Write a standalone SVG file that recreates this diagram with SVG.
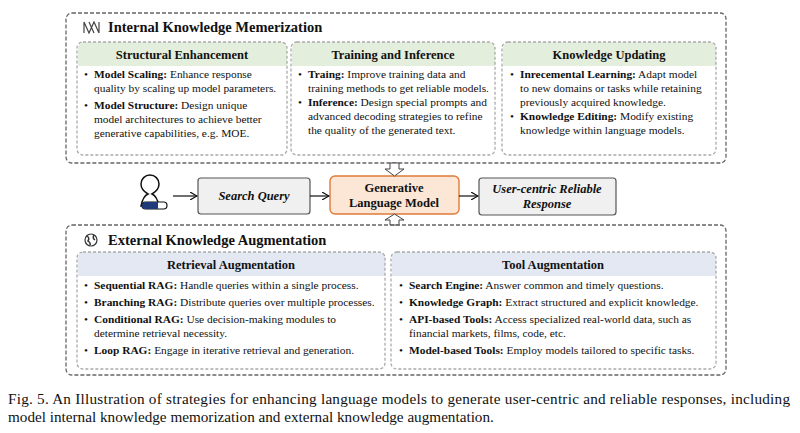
<svg xmlns="http://www.w3.org/2000/svg" width="800" height="433" viewBox="0 0 800 433">
<style>
text{font-family:"Liberation Serif",serif;fill:#111}
.t{font-size:11.4px}
.b{font-weight:bold}
.h{font-size:12.5px;font-weight:bold;text-anchor:middle}
.big{font-size:14.5px;font-weight:bold}
.outer{fill:none;stroke:#666;stroke-width:1.3;stroke-dasharray:4 2}
.card{fill:none;stroke:#aaa;stroke-width:1.3;stroke-dasharray:3 2}
.gh{fill:#e4eedc}
.bh{fill:#e3e8f3}
.box{fill:#f0f0f0;stroke:#555;stroke-width:1.2}
.it{font-size:12.5px;font-weight:bold;font-style:italic;text-anchor:middle}
.cap{font-size:15.2px}
</style>
<defs>
<marker id="ar" markerWidth="8" markerHeight="8" refX="7" refY="4" orient="auto" markerUnits="userSpaceOnUse"><path d="M0,0 L7,4 L0,8" fill="none" stroke="#111" stroke-width="1.2"/></marker>
</defs>
<g id="internal">
<rect class="outer" x="66" y="13" width="660" height="150" rx="6"/>
<g stroke="#444" stroke-width="1.2" fill="none"><path d="M84,22 L89,33 L94,22 L99,33 M84,22 L84,33 M99,22 L99,33 M89,22 L94,33"/></g>
<text class="big" x="108" y="32">Internal Knowledge Memerization</text>
</g>
<g id="structural">
<path class="gh" d="M78,66 V48 a6,6 0 0 1 6,-6 H281 a6,6 0 0 1 6,6 V66 Z"/>
<rect class="card" x="77" y="42" width="210" height="113" rx="6"/>
<text class="h" x="182" y="59">Structural Enhancement</text>
<text class="t" x="84" y="78">•</text><text class="t" x="94" y="78"><tspan class="b">Model Scaling:</tspan> Enhance response</text>
<text class="t" x="94" y="92">quality by scaling up model parameters.</text>
<text class="t" x="84" y="109">•</text><text class="t" x="94" y="109"><tspan class="b">Model Structure:</tspan> Design unique</text>
<text class="t" x="94" y="123">model architectures to achieve better</text>
<text class="t" x="94" y="137">generative capabilities, e.g. MOE.</text>
</g>
<g id="training">
<path class="gh" d="M292,66 V48 a6,6 0 0 1 6,-6 H489 a6,6 0 0 1 6,6 V66 Z"/>
<rect class="card" x="291" y="42" width="204" height="113" rx="6"/>
<text class="h" x="393" y="59">Training and Inference</text>
<text class="t" x="298" y="78">•</text><text class="t" x="308" y="78"><tspan class="b">Traing:</tspan> Improve training data and</text>
<text class="t" x="308" y="92">training methods to get reliable models.</text>
<text class="t" x="298" y="106">•</text><text class="t" x="308" y="106"><tspan class="b">Inference:</tspan> Design special prompts and</text>
<text class="t" x="308" y="120">advanced decoding strategies to refine</text>
<text class="t" x="308" y="134">the quality of the generated text.</text>
</g>
<g id="updating">
<path class="gh" d="M503,66 V48 a6,6 0 0 1 6,-6 H710 a6,6 0 0 1 6,6 V66 Z"/>
<rect class="card" x="502" y="42" width="214" height="113" rx="6"/>
<text class="h" x="609" y="59">Knowledge Updating</text>
<text class="t" x="510" y="78">•</text><text class="t" x="520" y="78"><tspan class="b">Inrecemental Learning:</tspan> Adapt model</text>
<text class="t" x="520" y="92">to new domains or tasks while retaining</text>
<text class="t" x="520" y="106">previously acquired knowledge.</text>
<text class="t" x="510" y="120">•</text><text class="t" x="520" y="120"><tspan class="b">Knowledge Editing:</tspan> Modify existing</text>
<text class="t" x="520" y="134">knowledge within language models.</text>
</g>
<g id="user">
<path d="M141,206 Q143,196 148,194 Q141,190 141,184 A9,9 0 0 1 159,184 Q159,190 152,194 Q157,196 159,206 Z" fill="#fff" stroke="#111" stroke-width="1.5"/>
<rect x="142" y="202" width="25" height="7" rx="3.5" fill="#fff" stroke="#111" stroke-width="1.2"/>
<path d="M145.5,202 H158 V209 H145.5 a3.5,3.5 0 0 1 0,-7 Z" fill="#1f3a7a"/>
</g>
<g id="query"><rect class="box" x="198" y="178" width="112" height="36" rx="3"/><text class="it" x="254" y="200">Search Query</text></g>
<g id="glm"><rect x="330" y="176" width="129" height="38" rx="5" fill="#fce6d6" stroke="#e07b39" stroke-width="1.4"/><text class="h" x="394" y="192">Generative</text><text class="h" x="394" y="207">Language Model</text></g>
<g id="response"><rect class="box" x="479" y="178" width="137" height="37" rx="3"/><text class="it" x="547" y="193">User-centric Reliable</text><text class="it" x="547" y="208">Response</text></g>
<g id="connectors">
<line x1="173" y1="196" x2="197" y2="196" stroke="#111" stroke-width="1.2" marker-end="url(#ar)"/>
<line x1="310" y1="196" x2="329" y2="196" stroke="#111" stroke-width="1.2" marker-end="url(#ar)"/>
<line x1="459" y1="196" x2="478" y2="196" stroke="#111" stroke-width="1.2" marker-end="url(#ar)"/>
<path d="M390,163 H399 V169 H404 L394.5,176 L385,169 H390 Z" fill="#fff" stroke="#444" stroke-width="1"/>
<path d="M390,225 H399 V220 H404 L394.5,214 L385,220 H390 Z" fill="#fff" stroke="#444" stroke-width="1"/>
</g>
<g id="external">
<rect class="outer" x="66" y="225" width="660" height="150" rx="6"/>
<circle cx="91" cy="240" r="6" fill="#fff" stroke="#333" stroke-width="1.2"/>
<path d="M87,236 q3,2 1,5 q3,2 2,4 M94,235 q-2,3 1,5" fill="none" stroke="#333" stroke-width="1.5"/>
<text class="big" x="108" y="245">External Knowledge Augmentation</text>
</g>
<g id="retrieval">
<path class="bh" d="M78,276 V258 a6,6 0 0 1 6,-6 H379 a6,6 0 0 1 6,6 V276 Z"/>
<rect class="card" x="77" y="252" width="308" height="117" rx="6"/>
<text class="h" x="231" y="269">Retrieval Augmentation</text>
<text class="t" x="84" y="289">•</text><text class="t" x="94" y="289"><tspan class="b">Sequential RAG:</tspan> Handle queries within a single process.</text>
<text class="t" x="84" y="306">•</text><text class="t" x="94" y="306"><tspan class="b">Branching RAG:</tspan> Distribute queries over multiple processes.</text>
<text class="t" x="84" y="323">•</text><text class="t" x="94" y="323"><tspan class="b">Conditional RAG:</tspan> Use decision-making modules to</text>
<text class="t" x="94" y="337">determine retrieval necessity.</text>
<text class="t" x="84" y="354">•</text><text class="t" x="94" y="354"><tspan class="b">Loop RAG:</tspan> Engage in iterative retrieval and generation.</text>
</g>
<g id="tool">
<path class="bh" d="M392,276 V258 a6,6 0 0 1 6,-6 H710 a6,6 0 0 1 6,6 V276 Z"/>
<rect class="card" x="391" y="252" width="325" height="117" rx="6"/>
<text class="h" x="553" y="269">Tool Augmentation</text>
<text class="t" x="399" y="289">•</text><text class="t" x="409" y="289"><tspan class="b">Search Engine:</tspan> Answer common and timely questions.</text>
<text class="t" x="399" y="306">•</text><text class="t" x="409" y="306"><tspan class="b">Knowledge Graph:</tspan> Extract structured and explicit knowledge.</text>
<text class="t" x="399" y="323">•</text><text class="t" x="409" y="323"><tspan class="b">API-based Tools:</tspan> Access specialized real-world data, such as</text>
<text class="t" x="409" y="337">financial markets, films, code, etc.</text>
<text class="t" x="399" y="354">•</text><text class="t" x="409" y="354"><tspan class="b">Model-based Tools:</tspan> Employ models tailored to specific tasks.</text>
</g>
<text class="cap" x="8" y="404" textLength="782" lengthAdjust="spacing">Fig. 5. An Illustration of strategies for enhancing language models to generate user-centric and reliable responses, including</text>
<text class="cap" x="8" y="422">model internal knowledge memorization and external knowledge augmentation.</text>
</svg>
